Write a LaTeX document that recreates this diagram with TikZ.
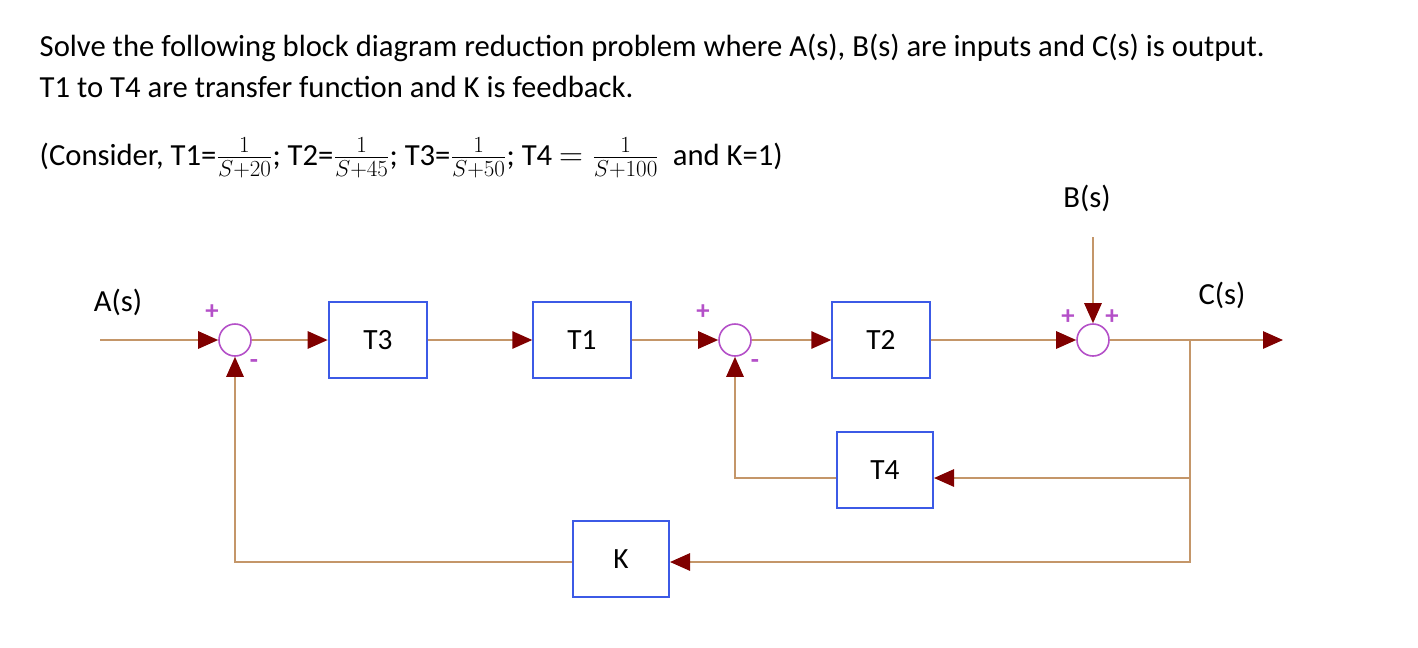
\documentclass[tikz,border=0pt]{standalone}
\usepackage{fontspec}
\setmainfont{Carlito}
\usetikzlibrary{arrows.meta}
\definecolor{ln}{RGB}{196,150,105}
\definecolor{ar}{RGB}{128,0,0}
\definecolor{cr}{RGB}{180,80,200}
\definecolor{bx}{RGB}{60,90,230}
\begin{document}
\begin{tikzpicture}[x=0.75pt,y=-0.75pt,
  blk/.style={draw=bx,line width=1.5pt,fill=white,inner sep=0pt,font=\fontsize{22}{24}\selectfont},
  sum/.style={circle,draw=cr,line width=1.2pt,minimum size=24pt,inner sep=0pt,fill=white},
  w/.style={draw=ln,line width=1.4pt},
  a/.style={w,-{Triangle[length=15pt,width=13pt,color=ar]}},
  sg/.style={text=cr,font=\fontsize{20}{20}\selectfont\bfseries},
  lab/.style={font=\fontsize{23}{26}\selectfont}]
\useasboundingbox (0,0) rectangle (1418,647);
\node[anchor=west,lab] (t1) at (35,48) {Solve the following block diagram reduction problem where A(s), B(s) are inputs and C(s) is output.};
\node[anchor=west,lab] (t2) at (35,87) {T1 to T4 are transfer function and K is feedback.};
\node[anchor=west,lab] (t3) at (35,158) {(Consider, T1=$\frac{\;1\;}{S+20}$; T2=$\frac{\;1\;}{S+45}$; T3=$\frac{\;1\;}{S+50}$; T4 $=\frac{\;1\;}{S+100}$\ \ and K=1)};
\node[lab] (As) at (118,302) {A(s)};
\node[lab] (Bs) at (1087,198) {B(s)};
\node[lab] (Cs) at (1222,295) {C(s)};
\node[sum] (s1) at (235,340) {};
\node[sum] (s2) at (735,340) {};
\node[sum] (s3) at (1093,340) {};
\node[blk,minimum width=74pt,minimum height=57pt] (T3) at (378,340) {T3};
\node[blk,minimum width=73pt,minimum height=57pt] (T1) at (582,340) {T1};
\node[blk,minimum width=73pt,minimum height=57pt] (T2) at (881,340) {T2};
\node[blk,minimum width=72pt,minimum height=57pt] (T4) at (885,470) {T4};
\node[blk,minimum width=72pt,minimum height=57pt] (K) at (621,559) {K};
\coordinate (in) at (100,340);
\coordinate (br) at (1190,340);
\coordinate (out) at (1283,340);
\coordinate (bt) at (1093,237);
\coordinate (b4) at (1190,478);
\coordinate (bk) at (1190,562);
\coordinate (f2) at (735,478);
\coordinate (f1) at (235,562);
\draw[a] (in) -- (s1.west);
\draw[a] (s1.east) -- (T3.west);
\draw[a] (T3.east) -- (T1.west);
\draw[a] (T1.east) -- (s2.west);
\draw[a] (s2.east) -- (T2.west);
\draw[a] (T2.east) -- (s3.west);
\draw[a] (bt) -- (s3.north);
\draw[a] (s3.east) -- (out);
\draw[a] (br) -- (b4) -- (T4.east |- b4);
\draw[a] (b4) -- (bk) -- (K.east |- bk);
\draw[a] (T4.west |- f2) -- (f2) -- (s2.south);
\draw[a] (K.west |- f1) -- (f1) -- (s1.south);
\node[sg] at (212,312) {+};
\node[sg] at (254,364) {-};
\node[sg] at (703,312) {+};
\node[sg] at (755,364) {-};
\node[sg] at (1068,317) {+};
\node[sg] at (1112,317) {+};
\end{tikzpicture}
\end{document}
